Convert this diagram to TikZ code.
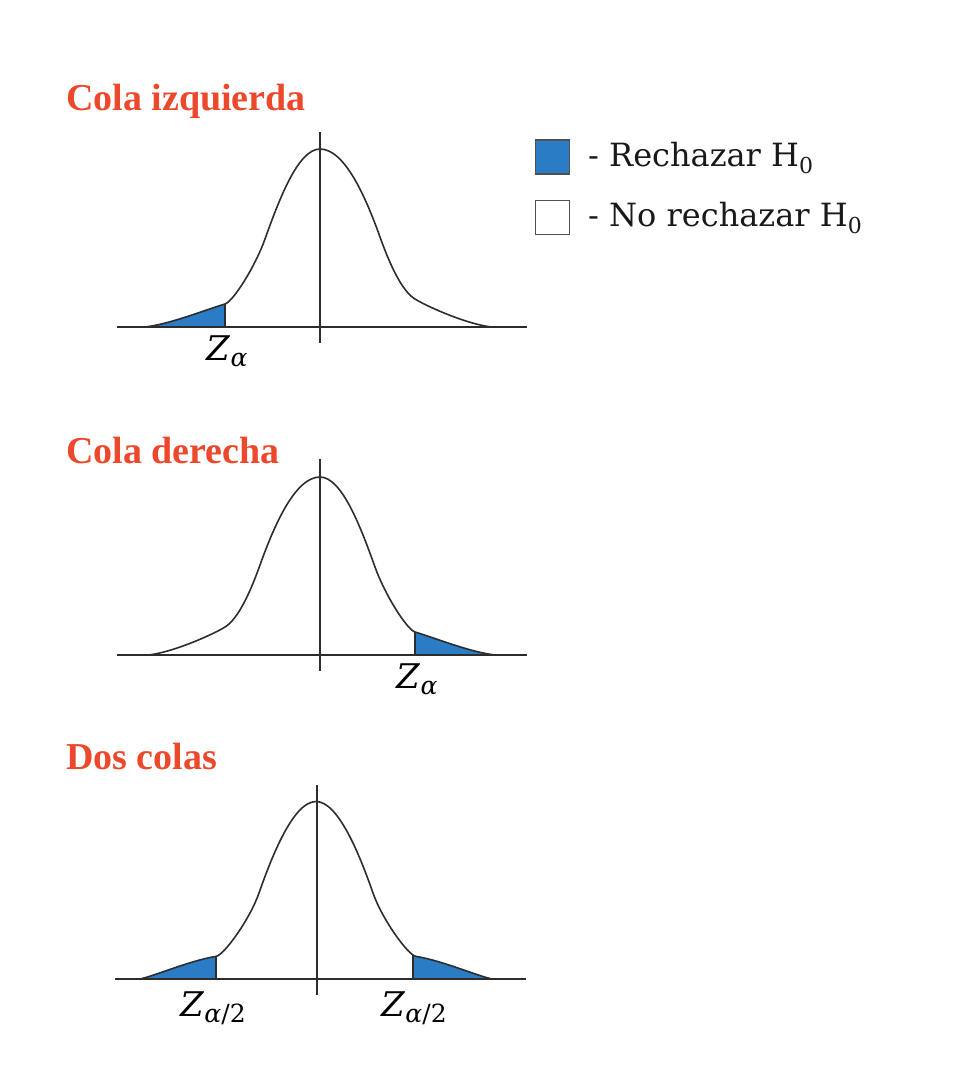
\documentclass[tikz,border=0pt]{standalone}
\usepackage{fontspec}
\setmainfont{Liberation Serif}
\newfontfamily\legfont{DejaVu Serif}
\definecolor{tailblue}{RGB}{42,125,196}
\definecolor{titlered}{RGB}{236,72,44}
\definecolor{ink}{RGB}{45,45,45}
\definecolor{boxline}{RGB}{80,80,80}
% curve of the one-tailed panels (left tail side at negative x)
\newcommand{\bellA}{(-175,0) .. controls (-150,-3) and (-118,-16) .. (-95,-23) .. controls (-87,-25.4) and (-65,-60) .. (-55,-88) .. controls (-41,-127) and (-22,-178) .. (0,-178) .. controls (25,-178) and (46,-129) .. (60,-90) .. controls (70,-62) and (82,-36) .. (95,-28) .. controls (110,-18.8) and (150,-2) .. (172,0)}
% symmetric curve of the two-tailed panel
\newcommand{\bellC}{(-176,0) .. controls (-160,-3.5) and (-126,-18.5) .. (-100,-22.6) .. controls (-92,-23.8) and (-66,-60) .. (-57,-86) .. controls (-43,-126) and (-22,-177.5) .. (0,-177.5) .. controls (22,-177.5) and (43,-126) .. (57,-86) .. controls (66,-60) and (92,-23.8) .. (100,-22.6) .. controls (126,-18.5) and (160,-3.5) .. (176,0)}
\tikzset{
  curve/.style={draw=ink,line width=1.6pt},
  baseline/.style={draw=ink,line width=2.8pt},
  title/.style={anchor=base west,inner sep=0pt,text=titlered,font=\fontsize{38}{40}\selectfont\bfseries},
  legtext/.style={anchor=base west,inner sep=0pt,text=black!90,font=\legfont\fontsize{32}{36}\selectfont},
  legbox/.style={draw=boxline,line width=1.4pt,minimum width=34pt,minimum height=34pt,inner sep=0pt},
  zlabel/.style={anchor=base,inner sep=0pt,text=black,font=\legfont\fontsize{34}{40}\selectfont},
}
\newcommand{\Hnull}{H\raisebox{-7pt}{\fontsize{22}{26}\selectfont 0}}
\newcommand{\Zsub}[1]{\textit{Z}\raisebox{-6pt}{\fontsize{25}{28}\selectfont #1}}
\begin{document}
\begin{tikzpicture}[x=1pt,y=-1pt]
\useasboundingbox (0,0) rectangle (954,1072);
% titles
\node[title] (t1) at (66,110) {Cola izquierda};
\node[title] (t2) at (66,463) {Cola derecha};
\node[title] (t3) at (66,769) {Dos colas};
% legend
\node[legbox,fill=tailblue] (lb1) at (552.5,157) {};
\node[legbox,fill=white] (lb2) at (552.5,217.5) {};
\node[legtext] (lt1) at (588,166.5) {- Rechazar \Hnull};
\node[legtext] (lt2) at (588,226.5) {- No rechazar \Hnull};
% panel 1: left tail
\begin{scope}[shift={(320,327)}]
  \begin{scope}
    \clip \bellA -- cycle;
    \fill[tailblue] (-200,0) rectangle (-95,-60);
    \draw[curve] (-95,0) -- (-95,-60);
  \end{scope}
  \draw[curve] \bellA;
  \draw[baseline] (-203,0) -- (207,0);
  \draw[curve] (0,16) -- (0,-195);
\end{scope}
\node[zlabel] (z1) at (227,360) {\Zsub{\textit{α}}};
% panel 2: right tail (mirror of panel 1)
\begin{scope}[shift={(320,655)}]
  \begin{scope}[xscale=-1]
    \begin{scope}
      \clip \bellA -- cycle;
      \fill[tailblue] (-200,0) rectangle (-95,-60);
      \draw[curve] (-95,0) -- (-95,-60);
    \end{scope}
    \draw[curve] \bellA;
  \end{scope}
  \draw[baseline] (-203,0) -- (207,0);
  \draw[curve] (0,16) -- (0,-196);
\end{scope}
\node[zlabel] (z2) at (417,688) {\Zsub{\textit{α}}};
% panel 3: two tails
\begin{scope}[shift={(316,979)}]
  \begin{scope}
    \clip \bellC -- cycle;
    \fill[tailblue] (-200,0) rectangle (-100,-60);
    \draw[curve] (-100,0) -- (-100,-60);
    \fill[tailblue] (97,0) rectangle (200,-60);
    \draw[curve] (97,0) -- (97,-60);
  \end{scope}
  \draw[curve] \bellC;
  \draw[baseline] (-201,0) -- (210,0);
  \draw[curve] (1,16) -- (1,-194);
\end{scope}
\node[zlabel] (z3) at (213,1016) {\Zsub{\textit{α}/2}};
\node[zlabel] (z4) at (414,1016) {\Zsub{\textit{α}/2}};
\end{tikzpicture}
\end{document}
